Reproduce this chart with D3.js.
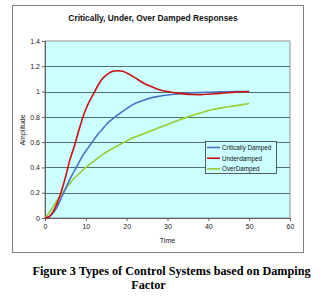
<!DOCTYPE html>
<html><head><meta charset="utf-8">
<script src="https://cdn.jsdelivr.net/npm/d3@7/dist/d3.min.js"></script>
<style>html,body{margin:0;padding:0;background:#fff;}svg{display:block;}</style>
</head><body>
<script>
const chartTitle = "Critically, Under, Over Damped Responses";
const xLabel = "Time";
const yLabel = "Amplitude";
const captionLines = ["Figure 3 Types of Control Systems based on Damping", "Factor"];
const xTicks = [0, 10, 20, 30, 40, 50, 60];
const yTicks = [0, 0.2, 0.4, 0.6, 0.8, 1, 1.2, 1.4];
const seriesNames = ["Critically Damped", "Underdamped", "OverDamped"];
const seriesColors = ["#4a72c8", "#cc1010", "#99cc33"];

const timeCritical = [0,1,2,3,4,5,6,7,8,9,10,11,12,13,14,15,16,17,18,20,22,24,26,28,30,32,34,36,38,40,42,44,46,48,50];
const valCritical  = [0,0.01,0.04,0.09,0.16,0.23,0.30,0.36,0.42,0.48,0.53,0.575,0.62,0.665,0.70,0.74,0.77,0.795,0.82,0.865,0.905,0.93,0.95,0.963,0.973,0.98,0.986,0.99,0.993,0.995,0.997,0.998,0.999,1.0,1.0];

const timeUnder = [0,1,2,3,4,5,6,7,8,9,10,11,12,13,14,15,16,17,18,19,20,22,24,26,28,30,32,34,36,38,40,42,44,46,48,50];
const valUnder  = [0,0.01,0.05,0.12,0.21,0.32,0.45,0.55,0.66,0.77,0.86,0.93,0.99,1.05,1.10,1.13,1.153,1.163,1.165,1.16,1.147,1.11,1.07,1.04,1.015,1.0,0.99,0.982,0.977,0.976,0.979,0.984,0.989,0.994,0.998,1.0];

const timeOver = [0,1,2,3,4,5,6,7,8,9,10,12,14,16,18,20,22,24,26,28,30,32,34,36,38,40,42,44,46,48,50];
const valOver  = [0,0.04,0.09,0.14,0.185,0.23,0.27,0.31,0.34,0.37,0.40,0.45,0.50,0.54,0.575,0.61,0.64,0.665,0.69,0.715,0.74,0.765,0.79,0.81,0.83,0.85,0.863,0.875,0.885,0.895,0.905];

const W = 325, H = 297;
const svg = d3.select("body").append("svg").attr("width", W).attr("height", H);

// outer chart frame
svg.append("rect").attr("x", 12.5).attr("y", 5.5).attr("width", 291).attr("height", 247)
  .attr("fill", "#fff").attr("stroke", "#808080").attr("stroke-width", 1);

const x = d3.scaleLinear().domain([0, 60]).range([45, 290]);
const y = d3.scaleLinear().domain([0, 1.4]).range([218, 41]);

// plot area
svg.append("rect").attr("x", x(0)).attr("y", y(1.4)).attr("width", x(60) - x(0)).attr("height", y(0) - y(1.4))
  .attr("fill", "#ccffff").attr("stroke", "#909090").attr("stroke-width", 1);

// gridlines
svg.append("g").selectAll("line").data(yTicks.filter(d => d > 0 && d < 1.4)).join("line")
  .attr("x1", x(0)).attr("x2", x(60))
  .attr("y1", d => Math.round(y(d)) + 0.5).attr("y2", d => Math.round(y(d)) + 0.5)
  .attr("stroke", "#4f7070").attr("stroke-width", 1);

// axes
const fontAxis = "Liberation Sans, Arial, sans-serif";
const xAxis = svg.append("g").attr("transform", `translate(0,${y(0)})`)
  .call(d3.axisBottom(x).tickValues(xTicks).tickSize(3).tickPadding(3).tickFormat(d3.format("d")));
const yAxis = svg.append("g").attr("transform", `translate(${x(0)},0)`)
  .call(d3.axisLeft(y).tickValues(yTicks).tickSize(3).tickPadding(2).tickFormat(d => d3.format("")(+d.toFixed(1))));
[xAxis, yAxis].forEach(g => {
  g.select(".domain").attr("stroke", "#606060");
  g.selectAll(".tick line").attr("stroke", "#606060");
  g.selectAll("text").attr("font-family", fontAxis).attr("font-size", 7).attr("fill", "#222");
});

// lines
const series = [
  {name: seriesNames[0], color: seriesColors[0], t: timeCritical, v: valCritical},
  {name: seriesNames[1], color: seriesColors[1], t: timeUnder, v: valUnder},
  {name: seriesNames[2], color: seriesColors[2], t: timeOver, v: valOver}
];
const line = d3.line().x(d => x(d[0])).y(d => y(d[1])).curve(d3.curveMonotoneX);
[series[2], series[0], series[1]].forEach(s => {
  svg.append("path").datum(s.t.map((t, i) => [t, s.v[i]]))
    .attr("d", line).attr("fill", "none").attr("stroke", s.color).attr("stroke-width", 1.6);
});

// title
svg.append("text").attr("x", 153).attr("y", 21).attr("text-anchor", "middle")
  .attr("font-family", fontAxis).attr("font-weight", "bold").attr("font-size", 8.4).attr("fill", "#111")
  .text(chartTitle);

// axis labels
svg.append("text").attr("x", 167.5).attr("y", 243).attr("text-anchor", "middle")
  .attr("font-family", fontAxis).attr("font-size", 7).attr("fill", "#222").text(xLabel);
svg.append("text").attr("transform", "translate(25,130) rotate(-90)").attr("text-anchor", "middle")
  .attr("font-family", fontAxis).attr("font-size", 7).attr("fill", "#222").text(yLabel);

// legend
const lg = svg.append("g");
lg.append("rect").attr("x", 205.5).attr("y", 141.5).attr("width", 71).attr("height", 32)
  .attr("fill", "#ccffff").attr("stroke", "#333").attr("stroke-width", 0.8);
series.forEach((s, i) => {
  const yy = 147.5 + i * 10.7;
  lg.append("line").attr("x1", 207).attr("x2", 220).attr("y1", yy).attr("y2", yy)
    .attr("stroke", s.color).attr("stroke-width", 1.6);
  lg.append("text").attr("x", 222).attr("y", yy + 2.3).attr("font-family", fontAxis)
    .attr("font-size", 6.3).attr("fill", "#111").text(s.name);
});

// caption
svg.append("text").attr("x", 171.5).attr("y", 275).attr("text-anchor", "middle")
  .attr("font-family", "Liberation Serif, Times New Roman, serif").attr("font-weight", "bold")
  .attr("font-size", 12.2).attr("fill", "#000").text(captionLines[0]);
svg.append("text").attr("x", 148.5).attr("y", 289).attr("text-anchor", "middle")
  .attr("font-family", "Liberation Serif, Times New Roman, serif").attr("font-weight", "bold")
  .attr("font-size", 12.2).attr("fill", "#000").text(captionLines[1]);
</script>
</body></html>
